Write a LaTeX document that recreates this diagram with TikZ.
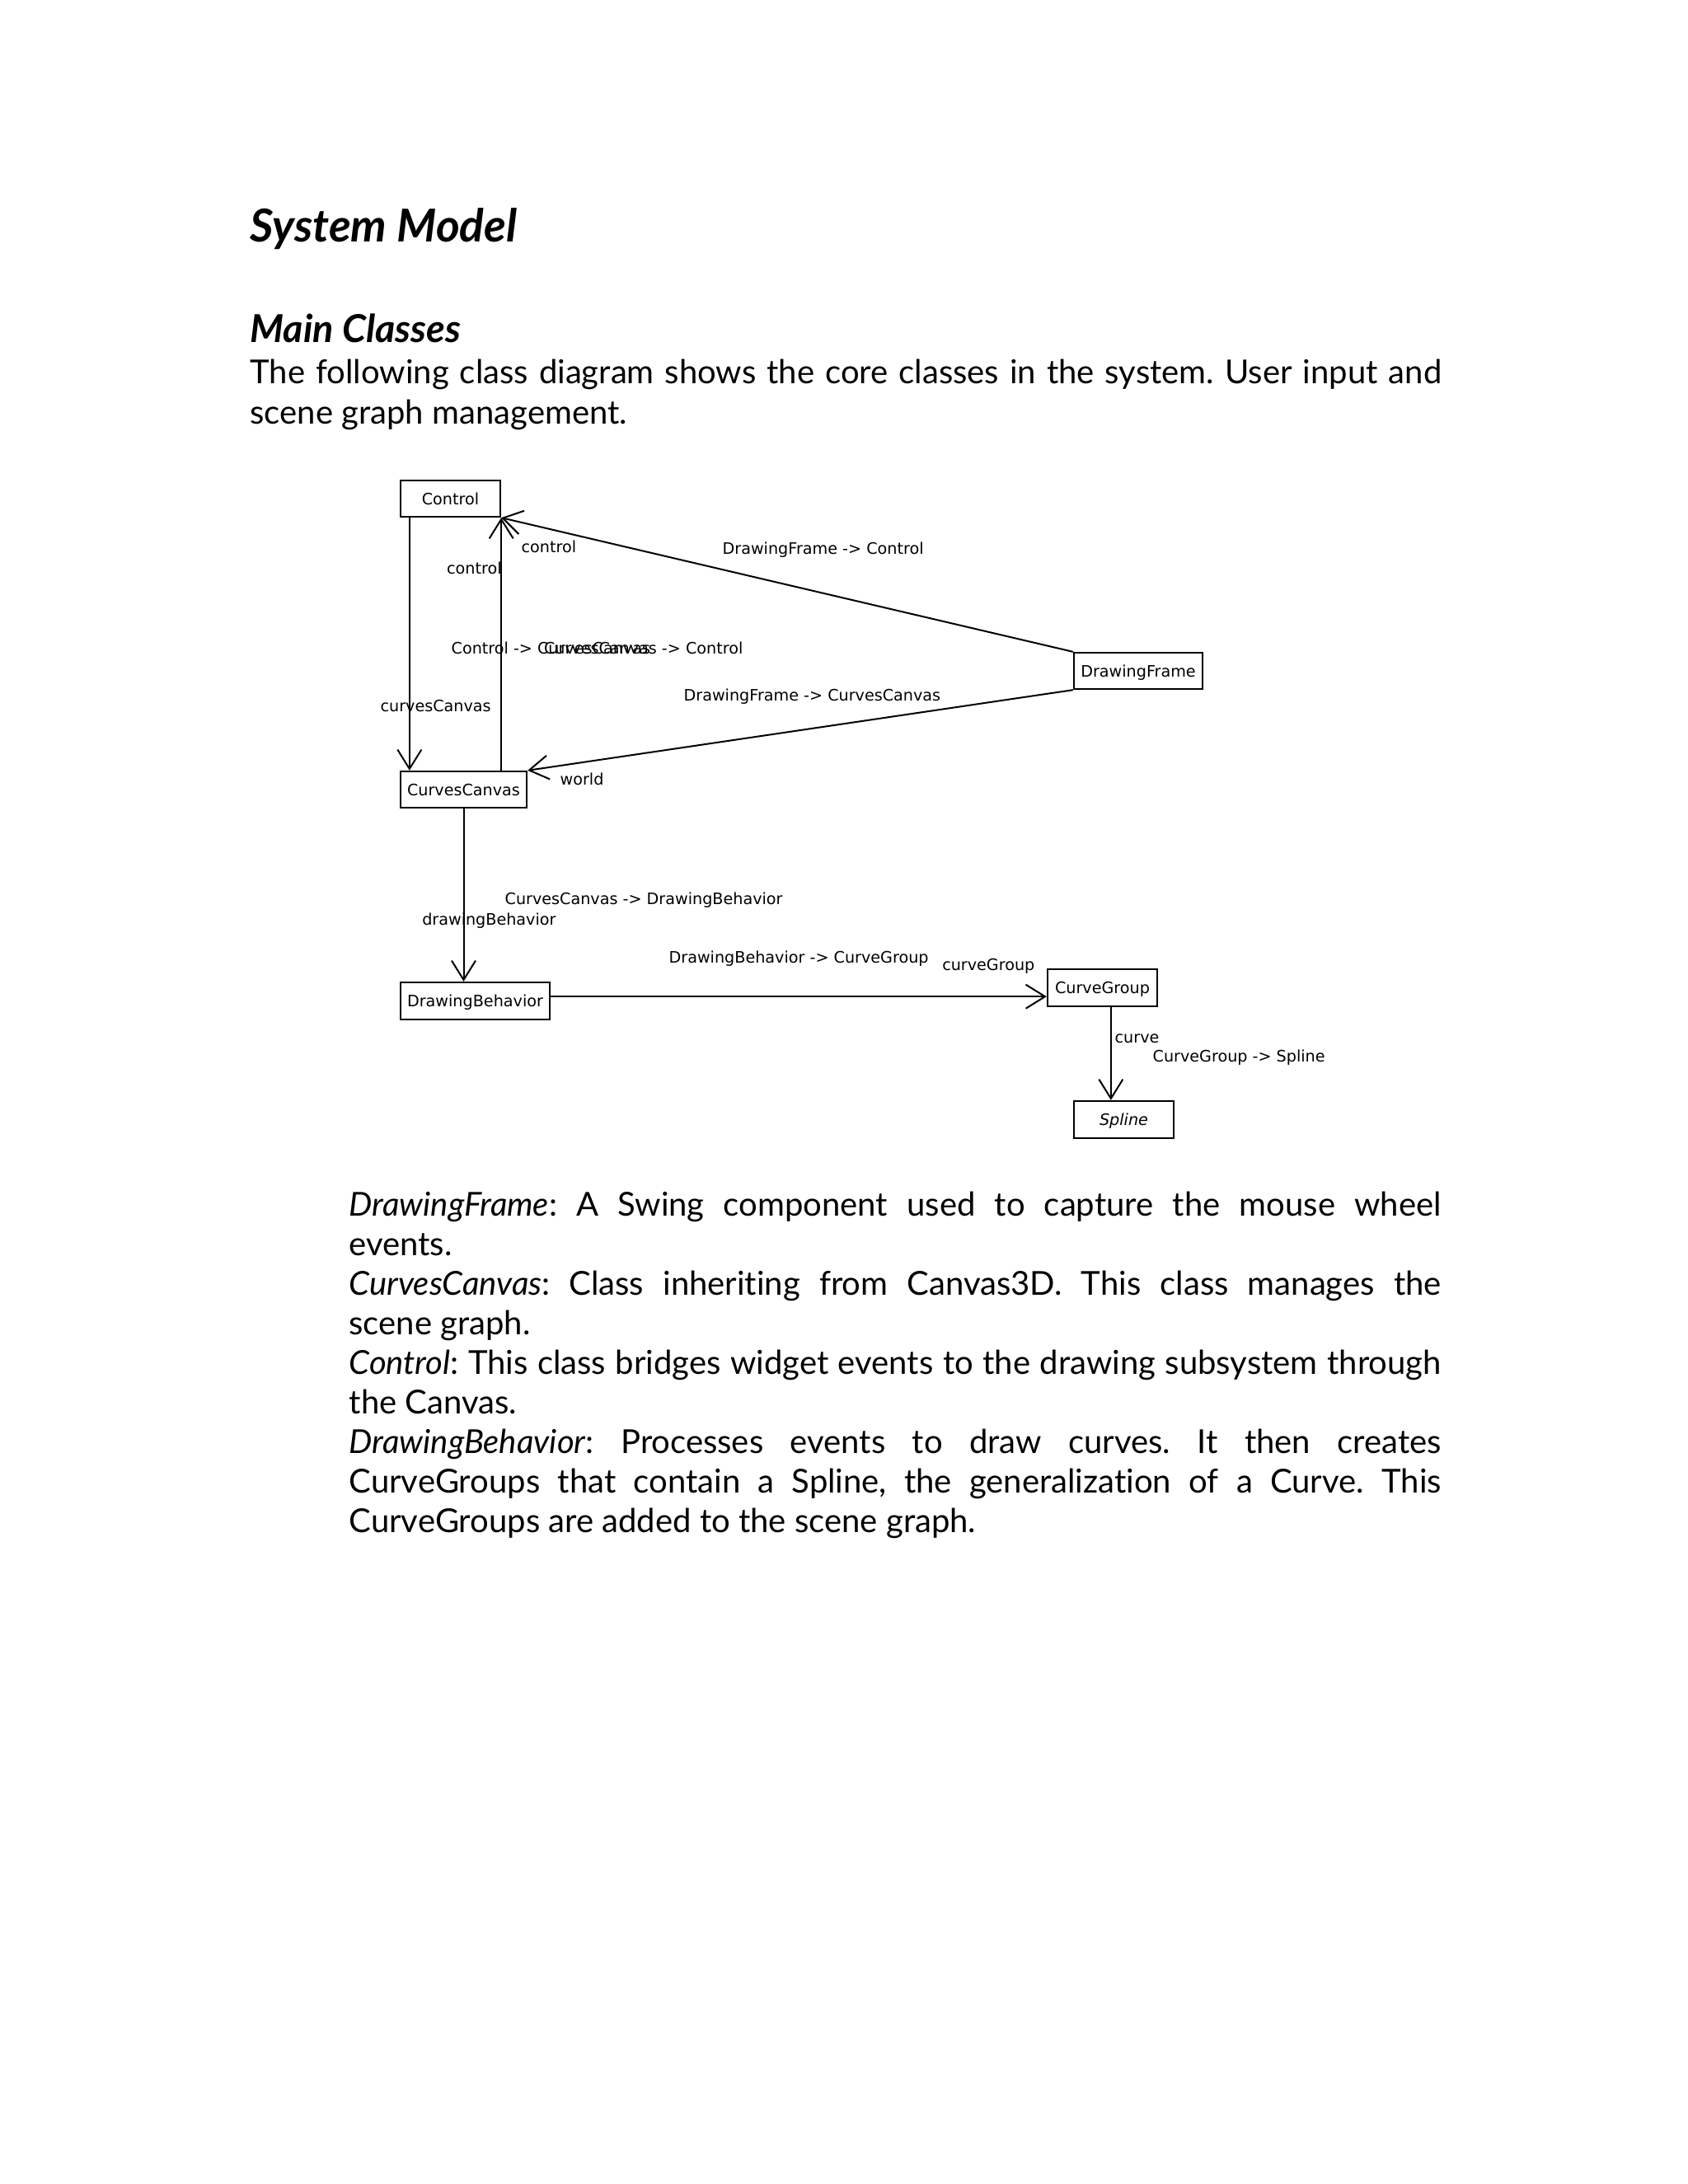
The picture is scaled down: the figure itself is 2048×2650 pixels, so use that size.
\documentclass[tikz,border=0pt]{standalone}
\usepackage{fontspec}
\setmainfont{Lato}[Ligatures=NoCommon]
\newfontfamily\umlfont{DejaVu Sans}
\usetikzlibrary{arrows.meta,calc,positioning}
\newdimen\upx \upx=0.010542cm
\frenchspacing

\tikzset{
  klass/.style={draw, line width=0.7pt, inner sep=0pt, minimum height=44\upx,
    text height=4.2pt, text depth=0pt, font={\umlfont\fontsize{5.75}{7}\selectfont}},
  assoc/.style={line width=0.6pt, -{Straight Barb[length=7pt,width=8.7pt]}},
  role/.style={inner sep=0pt, anchor=base west, font={\umlfont\fontsize{5.75}{7}\selectfont}},
  prose/.style={inner sep=0pt, anchor=base west}
}

\begin{document}
\begin{tikzpicture}[x=0.010542cm, y=-0.010542cm]
    \useasboundingbox (0,0) rectangle (2048,2650);

    \node[prose, font={\bfseries\itshape\fontsize{16.5}{19}\selectfont}] (title) at (303,293) {System Model};
    \node[prose, font={\bfseries\itshape\fontsize{14}{16}\selectfont}] (sub) at (303,415) {Main Classes};
    \node[prose, font={\fontsize{12}{14.9}\selectfont}] (intro) at (303,465) {\parbox[t]{6in}{%
        The following class diagram shows the core classes in the system. User input and\linebreak
        scene graph management.}};

    % classes
    \node[klass, minimum width=121\upx] (ctrl) at (546.5,605) {Control};
    \node[klass, minimum width=156\upx] (frame) at (1381,814) {DrawingFrame};
    \node[klass, minimum width=153\upx] (canvas) at (562.5,958) {CurvesCanvas};
    \node[klass, minimum width=181\upx, minimum height=45\upx] (behav) at (576.5,1214.5) {DrawingBehavior};
    \node[klass, minimum width=133\upx, minimum height=45\upx] (group) at (1337.5,1198.5) {CurveGroup};
    \node[klass, minimum width=121\upx, minimum height=45\upx] (spline) at (1363.5,1358.5) {\itshape Spline};

    % associations
    \coordinate (ccTop) at ($(ctrl.south west)+(12,0)$);
    \draw[assoc] (ccTop) -- (ccTop |- canvas.north);
    \draw[assoc] (ctrl.south east |- canvas.north) -- (ctrl.south east);
    \draw[assoc] (frame.north west) -- (ctrl.south east);
    \draw[assoc] (frame.south west) -- (canvas.north east);
    \draw[assoc] (canvas.south) -- (canvas.south |- behav.north);
    \coordinate (cgIn) at ($(group.south west)+(0,-13)$);
    \draw[assoc] (behav.east |- cgIn) -- (cgIn);
    \coordinate (spTop) at ($(group.south west)+(78,0)$);
    \draw[assoc] (spTop) -- (spTop |- spline.north);

    % role names
    \node[role] (rCanvas) at (461,863) {curvesCanvas};
    \node[role] (rCtrlA) at (541.5,696) {control};
    \node[role] (rCtrlB) at (632,670) {control};
    \node[role] (nFrameCtrl) at (876,672) {DrawingFrame -> Control};
    \node[role] (nCtrlCanvas) at (547,793) {Control -> CurvesCanvas};
    \node[role, anchor=base east] (nCanvasCtrl) at (902,793) {CurvesCanvas -> Control};
    \node[role] (nFrameCanvas) at (829,850) {DrawingFrame -> CurvesCanvas};
    \node[role] (rWorld) at (679,952) {world};
    \node[role] (nCanvasBehav) at (612,1097) {CurvesCanvas -> DrawingBehavior};
    \node[role] (rBehav) at (511.6,1122) {drawingBehavior};
    \node[role] (nBehavGroup) at (811,1168) {DrawingBehavior -> CurveGroup};
    \node[role, anchor=base east] (rGroup) at (1256,1177) {curveGroup};
    \node[role] (rCurve) at (1352,1265) {curve};
    \node[role] (nGroupSpline) at (1398,1288) {CurveGroup -> Spline};

    \node[prose, font={\fontsize{12}{14.4}\selectfont}] (notes) at (423,1475) {\parbox[t]{5.5in}{%
        \emph{DrawingFrame}: A Swing component used to capture the mouse wheel\linebreak
        events.\par
        \emph{CurvesCanvas}: Class inheriting from Canvas3D. This class manages the\linebreak
        scene graph.\par
        \emph{Control}: This class bridges widget events to the drawing subsystem through\linebreak
        the Canvas.\par
        \emph{DrawingBehavior}: Processes events to draw curves. It then creates\linebreak
        CurveGroups that contain a Spline, the generalization of a Curve. This\linebreak
        CurveGroups are added to the scene graph.}};
\end{tikzpicture}
\end{document}
